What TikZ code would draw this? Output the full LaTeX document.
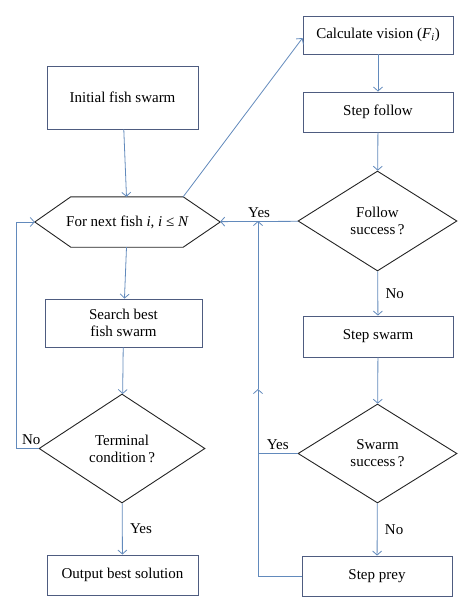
\documentclass[tikz,border=0pt]{standalone}
\usepackage{amsmath}
\usepackage{amssymb}
\usepackage{fontspec}
\setmainfont{Liberation Serif}
\usetikzlibrary{shapes.geometric,arrows.meta}
\definecolor{linkblue}{RGB}{98,138,188}
\definecolor{boxblue}{RGB}{78,92,128}
\definecolor{shapegray}{RGB}{35,35,35}
\begin{document}
\begin{tikzpicture}[x=1pt,y=-1pt,
		font=\fontsize{15}{17}\selectfont,
		procbox/.style={draw=boxblue, line width=0.9pt, rectangle, align=center, inner sep=2pt},
		decide/.style={draw=shapegray, line width=0.9pt, diamond, aspect=1.6, inner sep=1pt, align=center},
		link/.style={draw=linkblue, line width=0.8pt, -{Straight Barb[length=4pt,width=9pt]}},
		plain/.style={draw=linkblue, line width=0.8pt}]
			\useasboundingbox (0,0) rectangle (474,613);
			% left column
			\node	(init) at (122.5,97.5) [procbox, minimum width=151pt, minimum height=63pt] {Initial fish swarm};
			\node	(next) at (127.5,222) [minimum width=185pt, minimum height=50pt] {For next fish \textit{i}, \textit{i} ≤ \textit{N}};
			\draw[draw=shapegray, line width=0.9pt] (next.west) -- ([xshift=36pt]next.north west) -- ([xshift=-37pt]next.north east) -- (next.east) -- ([xshift=-37pt]next.south east) -- ([xshift=36pt]next.south west) -- cycle;
			\node	(search) at (123.5,323) [procbox, minimum width=157pt, minimum height=48pt] {Search best\\fish swarm};
			\node	(term) at (122,448.5) [decide, minimum width=166pt, minimum height=109pt] {Terminal\\condition\,?};
			\node	(output) at (122.5,575) [procbox, minimum width=151pt, minimum height=40pt] {Output best solution};
			% right column
			\node	(calc) at (378,35) [procbox, minimum width=150pt, minimum height=38pt] {Calculate vision (\textit{F}\textsubscript{\textit{i}})};
			\node	(follow) at (378,112) [procbox, minimum width=150pt, minimum height=40pt] {Step follow};
			\node	(fsucc) at (377.5,221) [decide, minimum width=159pt, minimum height=100pt] {Follow\\success\,?};
			\node	(swarm) at (378,336.5) [procbox, minimum width=150pt, minimum height=41pt] {Step swarm};
			\node	(ssucc) at (377.5,453.5) [decide, minimum width=159pt, minimum height=99pt] {Swarm\\success\,?};
			\node	(prey) at (377,576) [procbox, minimum width=150pt, minimum height=40pt] {Step prey};
			% loop points
			\coordinate (noleft) at (16,448.5);
			\coordinate (sjoin) at (258,453.5);
			\coordinate (loopmid) at (258,389);
			\coordinate (looptop) at (258,221);
			\draw 
			(init) edge[link] (next)
			(next) edge[link] (search)
			(search) edge[link] (term)
			(term) edge[link] node[right, xshift=4pt] {Yes} (output)
			([xshift=-37pt]next.north east) edge[link] ([yshift=-3pt]calc.west)
			(calc) edge[link] (follow)
			(follow) edge[link] (fsucc)
			(fsucc) edge[link] node[above] {Yes} (next)
			(fsucc) edge[link] node[right, xshift=4pt] {No} (swarm)
			(swarm) edge[link] (ssucc)
			(ssucc) edge[link] node[right, xshift=4pt] {No} (prey)
			(ssucc.west) edge[plain] node[above] {Yes} (sjoin)
			(loopmid) edge[link] (looptop)
			;
			\draw[link] (prey.west) -| (loopmid);
			\draw[link] (term.west) -- node[above, xshift=4pt] {No} (noleft) |- (next.west);
		\end{tikzpicture}
\end{document}
